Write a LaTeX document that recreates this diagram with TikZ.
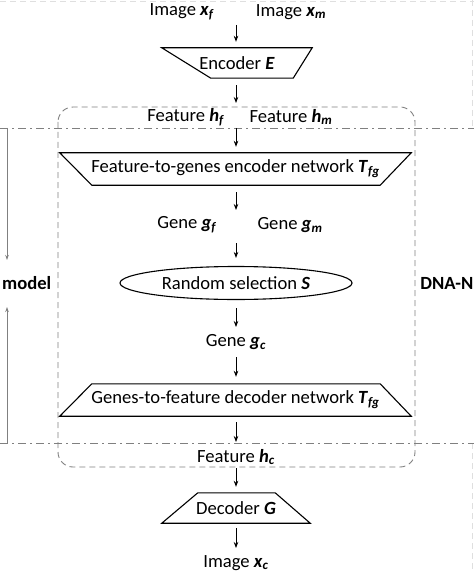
\documentclass[tikz,border=0pt]{standalone}
\usepackage{fontspec}
\setmainfont{Carlito}
\usetikzlibrary{arrows.meta,shapes.geometric}
\newcommand{\vb}[2]{\textbf{\textit{#1}}\textsubscript{\textbf{\textit{#2}}}}
\newcommand{\vbb}[1]{\textbf{\textit{#1}}}
\begin{document}
\begin{tikzpicture}[x=1pt,y=-1pt,
  lbl/.style={inner sep=0pt,font=\fontsize{18.6}{21}\selectfont},
  boxnode/.style={inner sep=0pt,draw=none,font=\fontsize{18.6}{21}\selectfont},
  trap/.style={line width=1.1pt,black,line join=miter},
  conn/.style={line width=0.8pt,-{Stealth[length=6pt,width=4.5pt]}},
  dimarrow/.style={gray,line width=0.8pt,-{Stealth[length=5pt,width=3.5pt]}},
  dashdot/.style={gray,line width=0.9pt,dash pattern=on 8pt off 4pt on 2pt off 4pt},
  roundbox/.style={gray,line width=0.9pt,dash pattern=on 6pt off 4pt,rounded corners=15pt},
  faint/.style={gray!25,line width=1pt,dash pattern=on 6pt off 4pt}
]
\useasboundingbox (0,0) rectangle (474,572);

% faint outer frame (cut off)
\draw[faint] (0,2) -- (474,2);
\draw[faint] (472,0) -- (472,128);
\draw[faint] (472,443) -- (472,572);

% region lines
\draw[dashdot] (0,128) -- (474,128);
\draw[dashdot] (0,443) -- (474,443);
\draw[roundbox] (58,107) rectangle (415,467);

% labels at sides
\node[lbl,font=\fontsize{18.6}{21}\selectfont\bfseries,anchor=west] (model) at (2,283) {model};
\node[lbl,font=\fontsize{18.6}{21}\selectfont\bfseries,anchor=east] (dna) at (473.5,283) {DNA-N};
\coordinate (dimtop) at (7,128);
\coordinate (dimbot) at (7,443);
\draw[dimarrow] (dimtop) -- (7,260);
\draw[dimarrow] (dimbot) -- (7,307);

% texts
\node[lbl] (imf) at (182,12) {Image \vb{x}{f}};
\node[lbl] (imm) at (291,12) {Image \vb{x}{m}};
\coordinate (imgs) at (236,12);

\node[boxnode,minimum width=150pt,minimum height=30pt] (enc) at (237,63) {Encoder \vbb{E}};
\draw[trap] (enc.north west) -- (enc.north east) -- ([xshift=-19pt]enc.south east) -- ([xshift=49pt]enc.south west) -- cycle;

\node[lbl] (ff) at (186,117) {Feature \vb{h}{f}};
\node[lbl] (fm) at (291,117) {Feature \vb{h}{m}};
\coordinate (feats) at (236,117);

\node[boxnode,minimum width=351pt,minimum height=32pt] (tenc) at (235.5,169) {Feature-to-genes encoder network \vb{T}{fg}};
\draw[trap] (tenc.north west) -- (tenc.north east) -- ([xshift=-31pt]tenc.south east) -- ([xshift=32pt]tenc.south west) -- cycle;

\node[lbl] (gf) at (187,225) {Gene \vb{g}{f}};
\node[lbl] (gm) at (290,225) {Gene \vb{g}{m}};
\coordinate (genes) at (236,225);

\node[ellipse,draw,line width=1.1pt,minimum width=232pt,minimum height=33pt,inner sep=0pt,font=\fontsize{18.6}{21}\selectfont] (sel) at (236,283) {Random selection \vbb{S}};

\node[lbl] (gc) at (236,342) {Gene \vb{g}{c}};

\node[boxnode,minimum width=351pt,minimum height=32pt] (tdec) at (235.5,400) {Genes-to-feature decoder network \vb{T}{fg}};
\draw[trap] ([xshift=32pt]tdec.north west) -- ([xshift=-31pt]tdec.north east) -- (tdec.south east) -- (tdec.south west) -- cycle;

\node[lbl] (hc) at (236,457) {Feature \vb{h}{c}};

\node[boxnode,minimum width=148pt,minimum height=30pt] (dec) at (236,508) {Decoder \vbb{G}};
\draw[trap] ([xshift=36pt]dec.north west) -- ([xshift=-35pt]dec.north east) -- (dec.south east) -- (dec.south west) -- cycle;

\node[lbl] (xc) at (236,563) {Image \vb{x}{c}};

% connectors
\draw[conn,shorten <=13pt,shorten >=6pt] (imgs) -- (imgs |- enc.north);
\draw[conn,shorten <=7pt,shorten >=14pt] (imgs |- enc.south) -- (feats);
\draw[conn,shorten <=11pt,shorten >=6pt] (feats) -- (feats |- tenc.north);
\draw[conn,shorten <=7pt,shorten >=15pt] (feats |- tenc.south) -- (genes);
\draw[conn,shorten <=18pt,shorten >=8pt] (genes) -- (sel.north);
\draw[conn,shorten <=8pt,shorten >=15pt] (sel.south) -- (gc.center);
\draw[conn,shorten <=15pt,shorten >=7pt] (gc.center) -- (gc.center |- tdec.north);
\draw[conn,shorten <=6pt,shorten >=15pt] (gc.center |- tdec.south) -- (hc.center);
\draw[conn,shorten <=11pt,shorten >=6pt] (hc.center) -- (dec.north);
\draw[conn,shorten <=5pt,shorten >=15pt] (dec.south) -- (xc.center);
\end{tikzpicture}
\end{document}
